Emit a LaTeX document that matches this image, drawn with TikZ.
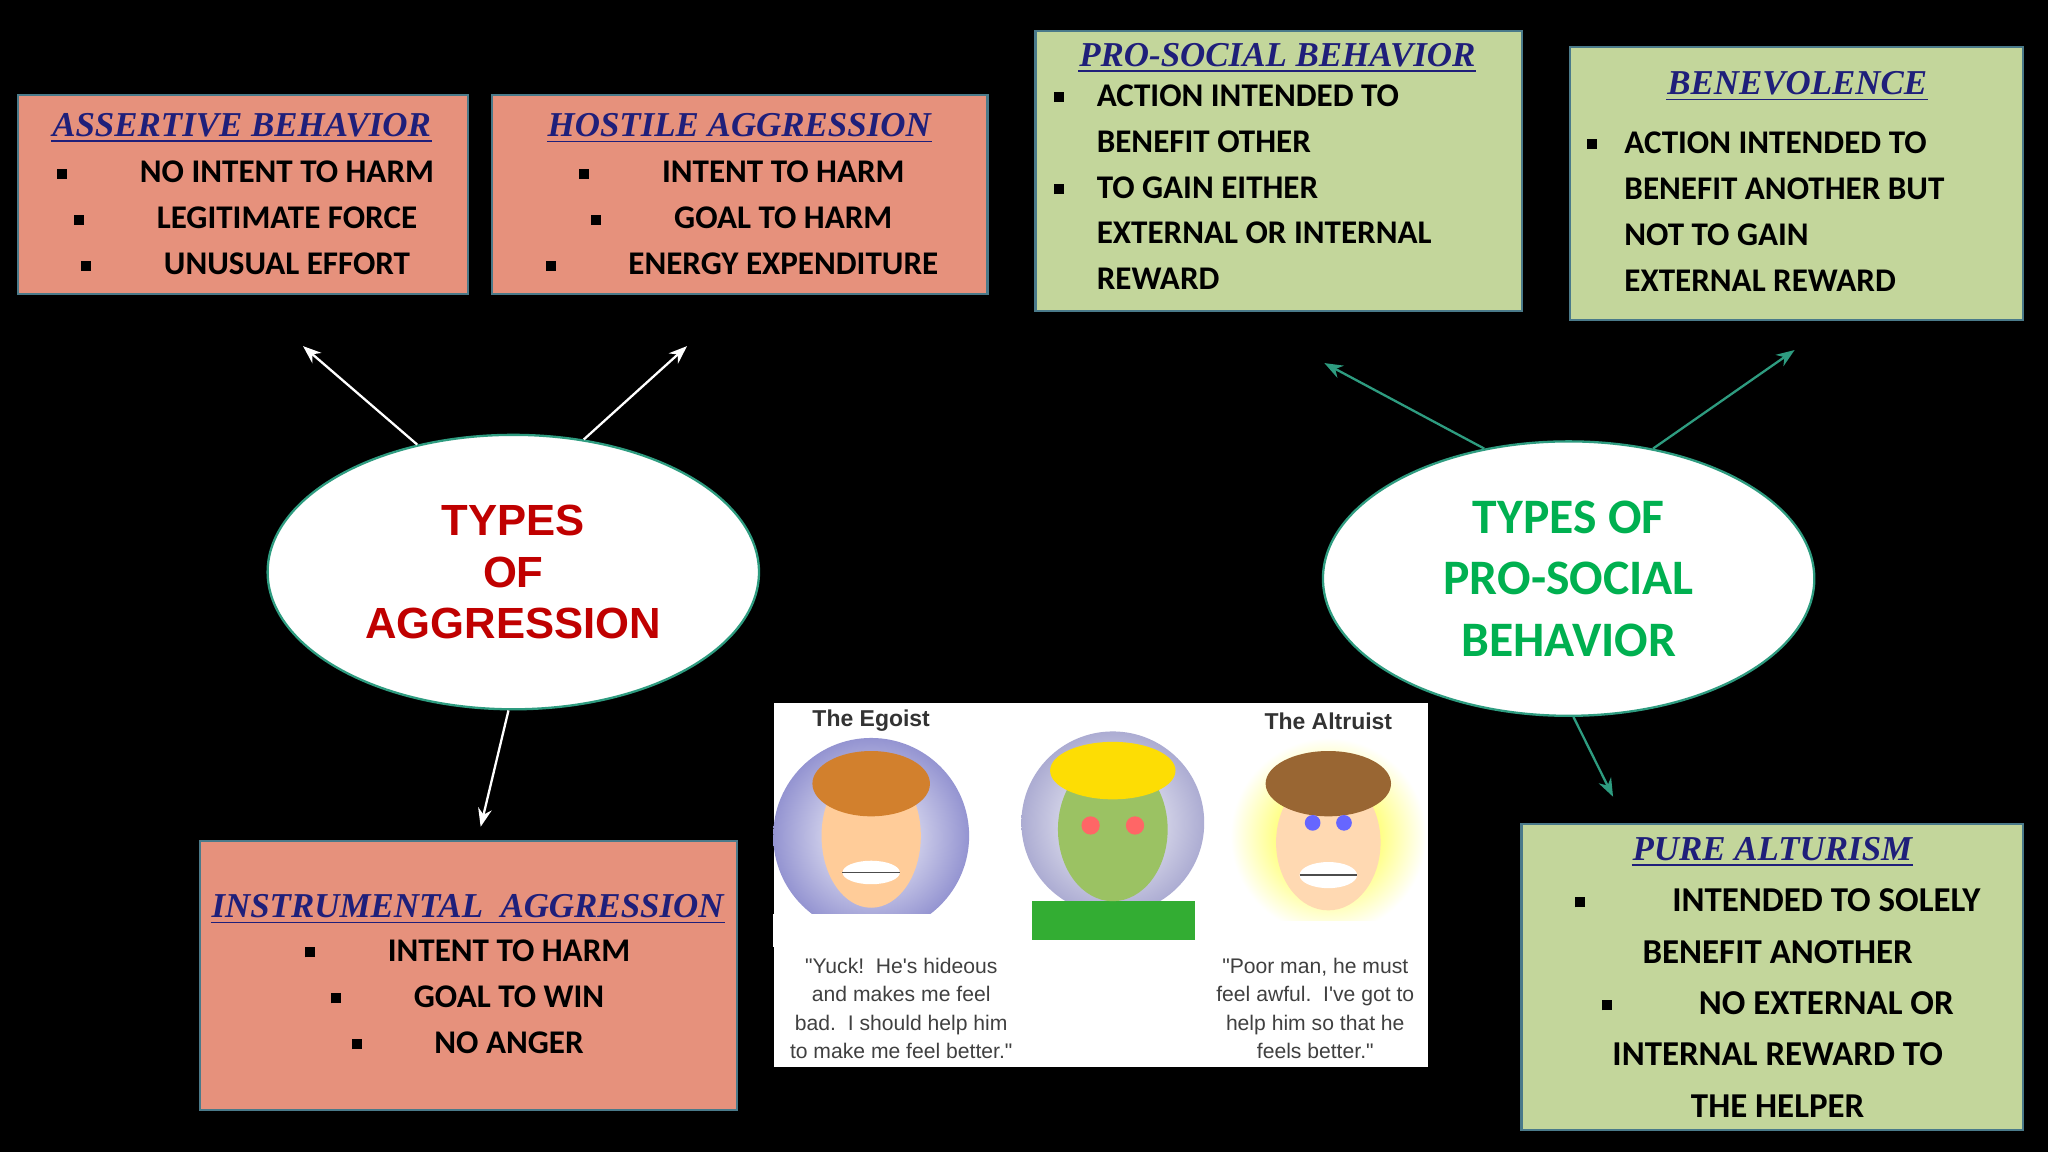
\documentclass[tikz,border=0pt]{standalone}
\usepackage{fontspec}
\setmainfont{Carlito}
\newfontfamily\tser{Liberation Serif}
\newfontfamily\tsans{Liberation Sans}
\usetikzlibrary{arrows.meta,shapes.geometric}
\definecolor{salm}{HTML}{E6917C}
\definecolor{grn}{HTML}{C3D69B}
\definecolor{navy}{HTML}{1F1F7A}
\definecolor{bord}{HTML}{4A7A8A}
\definecolor{pgreen}{HTML}{00B050}
\definecolor{ared}{HTML}{C00000}
\definecolor{tl}{HTML}{2E9C80}
\newcommand{\bb}{\rule[0.25ex]{2.2pt}{2.2pt}}
\tikzset{
 ttl/.style={font=\tser\bfseries\itshape\fontsize{7.6}{10}\selectfont,text=navy,inner sep=0pt},
 box/.style={draw=bord,line width=0.5pt,anchor=north west,inner sep=0pt},
 txt/.style={font=\bfseries\fontsize{7.2}{10}\selectfont,text=black,align=center},
 ell/.style={ellipse,draw=tl,fill=white,line width=0.5pt},
 warr/.style={draw=white,line width=0.5pt,-{Stealth[length=4pt]}},
 garr/.style={draw=tl,line width=0.5pt,-{Stealth[length=4pt]}},
 quotetxt/.style={font=\tsans\fontsize{4.6}{6.2}\selectfont,text=black!75,align=center}
}
\begin{document}
\begin{tikzpicture}[x=0.01cm,y=-0.01cm]
\fill[black] (0,0) rectangle (1568,882);
\useasboundingbox (0,0) rectangle (1568,882);
% boxes
\node[box,fill=salm,minimum width=3.44cm,minimum height=1.52cm] (ass) at (13,72) {};
\node[box,fill=salm,minimum width=3.79cm,minimum height=1.52cm] (hos) at (376,72) {};
\node[box,fill=salm,minimum width=4.11cm,minimum height=2.06cm] (ins) at (152,643) {};
\node[box,fill=grn,minimum width=3.72cm,minimum height=2.14cm] (pro) at (792,23) {};
\node[box,fill=grn,minimum width=3.47cm,minimum height=2.09cm] (ben) at (1201,35) {};
\node[box,fill=grn,minimum width=3.84cm,minimum height=2.34cm] (pur) at (1164,630) {};
% titles
\node[ttl] (t1) at (185,96) {ASSERTIVE BEHAVIOR};
\node[ttl] (t2) at (566,96) {HOSTILE AGGRESSION};
\node[ttl] (t3) at (358,694) {INSTRUMENTAL\ \ AGGRESSION};
\node[ttl] (t4) at (978,42) {PRO-SOCIAL BEHAVIOR};
\node[ttl] (t5) at (1376,64) {BENEVOLENCE};
\node[ttl] (t6) at (1357,650) {PURE ALTURISM};
\foreach \t in {t1,t2,t3,t4,t5,t6}
  \draw[navy,line width=0.35pt] ([yshift=-1pt]\t.base west) -- ([yshift=-1pt]\t.base east);
% contents
\node[txt] (c1) at (188,167) {\bb\hspace{2.2em}NO INTENT TO HARM\\\bb\hspace{2.2em}LEGITIMATE FORCE\\\bb\hspace{2.2em}UNUSUAL EFFORT};
\node[txt] (c2) at (568,167) {\bb\hspace{2.2em}INTENT TO HARM\\\bb\hspace{2.2em}GOAL TO HARM\\\bb\hspace{2.2em}ENERGY EXPENDITURE};
\node[txt] (c3) at (358,763) {\bb\hspace{2.2em}INTENT TO HARM\\\bb\hspace{2.2em}GOAL TO WIN\\\bb\hspace{2.2em}NO ANGER};
\node[txt,align=left,anchor=north west,inner sep=0pt] (c4) at (806,64) {\makebox[0.33cm][l]{\bb}ACTION INTENDED TO\\\hspace*{0.33cm}BENEFIT OTHER\\\makebox[0.33cm][l]{\bb}TO GAIN EITHER\\\hspace*{0.33cm}EXTERNAL OR INTERNAL\\\hspace*{0.33cm}REWARD};
\node[txt,align=left,anchor=north west,inner sep=0pt] (c5) at (1214,100) {\makebox[0.29cm][l]{\bb}ACTION INTENDED TO\\\hspace*{0.29cm}BENEFIT ANOTHER BUT\\\hspace*{0.29cm}NOT TO GAIN\\\hspace*{0.29cm}EXTERNAL REWARD};
\node[txt,font=\bfseries\fontsize{7.6}{11.2}\selectfont] (c6) at (1361,768) {\bb\hspace{2.5em}INTENDED TO SOLELY\\BENEFIT ANOTHER\\\bb\hspace{2.5em}NO EXTERNAL OR\\INTERNAL REWARD TO\\THE HELPER};
% ellipses
\node[ell,minimum width=3.76cm,minimum height=2.1cm,align=center,font=\tsans\bfseries\fontsize{9.5}{11.2}\selectfont,text=ared] (agg) at (393,438) {TYPES\\OF\\AGGRESSION};
\node[ell,minimum width=3.76cm,minimum height=2.1cm,align=center,font=\bfseries\fontsize{10.8}{13.4}\selectfont,text=pgreen] (psb) at (1201,443) {TYPES OF\\PRO-SOCIAL\\BEHAVIOR};
% arrow ends
\coordinate (e1) at (232,265); \coordinate (e2) at (526,265); \coordinate (e3) at (368,633);
\coordinate (e4) at (1014,278); \coordinate (e5) at (1374,268); \coordinate (e6) at (1235,610);
\draw[warr] (agg.127) -- (e1);
\draw[warr] (agg.62) -- (e2);
\draw[warr] (agg.268) -- (e3);
\draw[garr] (psb.123) -- (e4);
\draw[garr] (psb.57) -- (e5);
\draw[garr] (psb.-88) -- (e6);
% picture
\node[box,fill=white,draw=none,minimum width=5.0cm,minimum height=2.79cm] (pic) at (592,537) {};
% egoist face
\shade[inner color=white,outer color=blue!40!gray!60] (667,640) circle (75);
\fill[white] (592,700) rectangle (742,725);
\fill[orange!40!white] (667,640) ellipse (38 and 55);
\fill[brown!70!orange] (667,600) ellipse (45 and 25);
\fill[white] (667,668) ellipse (22 and 9);
\draw[black!70] (645,668) -- (689,668);
% middle
\shade[inner color=white,outer color=blue!30!gray!50] (852,630) circle (70);
\fill[green!60!black!80] (790,690) rectangle (915,720);
\fill[olive!50!green!60] (852,635) ellipse (42 and 55);
\fill[yellow!80!orange] (852,590) ellipse (48 and 22);
\fill[red!60] (835,632) circle (7); \fill[red!60] (869,632) circle (7);
% altruist
\shade[inner color=yellow,outer color=white] (1017,640) circle (75);
\fill[white] (940,705) rectangle (1090,725);
\fill[orange!30!white] (1017,645) ellipse (40 and 52);
\fill[brown!80!black] (1017,600) ellipse (48 and 25);
\fill[blue!60] (1005,630) circle (6); \fill[blue!60] (1029,630) circle (6);
\fill[white] (1017,670) ellipse (22 and 10);
\draw[black!70] (995,670) -- (1039,670);
\node[font=\tsans\bfseries\fontsize{5}{6}\selectfont,text=black!80] (eg) at (667,552) {The Egoist};
\node[font=\tsans\bfseries\fontsize{5}{6}\selectfont,text=black!80] (al) at (1017,552) {The Altruist};
\node[quotetxt] (q1) at (690,772) {"Yuck!\ \ He's hideous\\and makes me feel\\bad.\ \ I should help him\\to make me feel better."};
\node[quotetxt] (q2) at (1007,772) {"Poor man, he must\\feel awful.\ \ I've got to\\help him so that he\\feels better."};
\end{tikzpicture}
\end{document}
